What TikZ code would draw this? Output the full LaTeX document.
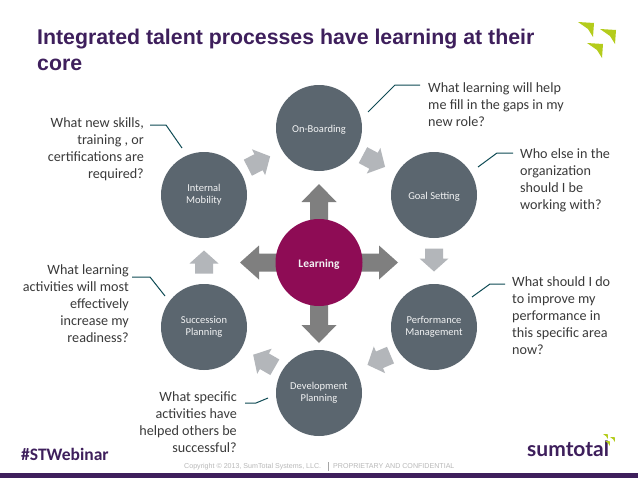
\documentclass[tikz,border=0pt]{standalone}
\usepackage{fontspec}
\setmainfont{Carlito}
\newfontfamily\arialf{Liberation Sans}
\newfontfamily\logof{Lato}
\definecolor{circ}{HTML}{5B666F}
\definecolor{plum}{HTML}{8E0C55}
\definecolor{darkarrow}{HTML}{7F7F7F}
\definecolor{lightarrow}{HTML}{B3B6BA}
\definecolor{teal}{HTML}{0E4A54}
\definecolor{titlec}{HTML}{3E1F5C}
\definecolor{lime}{HTML}{B4CC1C}
\definecolor{bodyc}{HTML}{3A3A3A}
\newcommand{\chevron}[2]{\fill[lime,shift={(#1,#2)}] (0,0) -- (16,1) -- (15,15) -- (10,7) -- cycle;}
\newcommand{\smallchev}[2]{\fill[lime,shift={(#1,#2)}] (0,0) -- (5,0.3) -- (4.7,5) -- (3.2,2.3) -- cycle;}
% centre x, centre y, screen direction (clockwise), length, head length, head half width, shaft half width, colour
\newcommand{\blockarrow}[8]{\fill[#8,shift={(#1,#2)},rotate={0-(#3)}]
  (#4/2,0) -- (#4/2-#5,#6) -- (#4/2-#5,#7) -- (-#4/2,#7) -- (-#4/2,-#7) -- (#4/2-#5,-#7) -- (#4/2-#5,-#6) -- cycle;}
\tikzset{
  x=1pt,y=-1pt,
  stage/.style={circle,fill=circ,minimum size=86pt,inner sep=0pt,text=white!92!circ,align=center,font=\fontsize{10.5}{12}\selectfont,execute at begin node={\rule{0pt}{11pt}}},
  hub/.style={stage,fill=plum,minimum size=87pt,font=\bfseries\fontsize{11.5}{13}\selectfont},
  ask/.style={text=bodyc,inner sep=0pt,font=\fontsize{14.15}{17}\selectfont},
  askr/.style={ask,align=right,anchor=north east},
  askl/.style={ask,align=left,anchor=north west},
  lead/.style={draw=teal,line width=1pt},
}
\begin{document}
\begin{tikzpicture}
\useasboundingbox (0,0) rectangle (638,479);
\fill[white] (0,0) rectangle (638,479);
\node[anchor=north west,inner sep=0pt,text=titlec,align=left,font=\arialf\bfseries\fontsize{21.3}{26}\selectfont] (title) at (37,29) {Integrated talent processes have learning at their\\core};
\chevron{578}{22}\chevron{600}{29}\chevron{587}{43}
% dark arrows
\blockarrow{319}{205}{-90}{42}{18}{17.5}{9}{darkarrow}
\blockarrow{319}{322}{90}{42}{18}{17.5}{9}{darkarrow}
\blockarrow{260}{262.5}{180}{40}{19}{17}{9}{darkarrow}
\blockarrow{378}{262.5}{0}{40}{19}{17}{9}{darkarrow}
% light arrows
\blockarrow{259}{162}{-27}{25}{13}{14.5}{9}{lightarrow}
\blockarrow{374}{161}{28}{25}{13}{14.5}{9}{lightarrow}
\blockarrow{434}{260}{90}{23}{13}{14.5}{9}{lightarrow}
\blockarrow{379}{360}{157}{25}{13}{14.5}{9}{lightarrow}
\blockarrow{264}{361}{210}{25}{13}{14.5}{9}{lightarrow}
\blockarrow{204}{262}{-90}{23}{13}{14.5}{9}{lightarrow}
% circles
\node[stage] (onb) at (319,128) {On-Boarding};
\node[stage] (goal) at (434,195) {Goal Setting};
\node[stage] (perf) at (434,327) {Performance\\Management};
\node[stage] (dev) at (319,393) {Development\\Planning};
\node[stage] (succ) at (204,327) {Succession\\Planning};
\node[stage] (mob) at (204,195) {Internal\\Mobility};
\node[hub] (learn) at (319,262.5) {Learning};
% callouts
\node[askl] (q1) at (428,82.5) {What learning will help\\me fill in the gaps in my\\new role?};
\node[askl] (q2) at (520,148) {Who else in the\\organization\\should I be\\working with?};
\node[askl] (q3) at (512,276) {What should I do\\to improve my\\performance in\\this specific area\\now?};
\node[askr] (q4) at (237,391) {What specific\\activities have\\helped others be\\successful?};
\node[askr] (q5) at (129,264) {What learning\\activities will most\\effectively\\increase my\\readiness?};
\node[askr] (q6) at (144,117) {What new skills,\\training , or\\certifications are\\required?};
% leader lines
\coordinate (l1a) at (368,112); \coordinate (l1b) at (395,85); \coordinate (l1c) at (420,85);
\coordinate (l2a) at (478,167); \coordinate (l2b) at (497,153); \coordinate (l2c) at (513,153);
\coordinate (l3a) at (472,297); \coordinate (l3b) at (490,284); \coordinate (l3c) at (505,284);
\coordinate (l4a) at (268,398); \coordinate (l4b) at (256,403); \coordinate (l4c) at (245,403);
\coordinate (l5a) at (165,296); \coordinate (l5b) at (150,277); \coordinate (l5c) at (132,277);
\coordinate (l6a) at (182,148); \coordinate (l6b) at (166,125); \coordinate (l6c) at (150,125);
\draw[lead] (l1a) -- (l1b) -- (l1c);
\draw[lead] (l2a) -- (l2b) -- (l2c);
\draw[lead] (l3a) -- (l3b) -- (l3c);
\draw[lead] (l4a) -- (l4b) -- (l4c);
\draw[lead] (l5a) -- (l5b) -- (l5c);
\draw[lead] (l6a) -- (l6b) -- (l6c);
% footer
\node[anchor=west,inner sep=0pt,text=titlec,font=\bfseries\fontsize{17.5}{20}\selectfont] (tag) at (21,454) {\#STWebinar};
\node[anchor=west,inner sep=0pt,text=black!28,font=\arialf\fontsize{7.1}{9}\selectfont] (copy) at (184,466.5) {Copyright © 2013, SumTotal Systems, LLC.};
\node[anchor=west,inner sep=0pt,text=black!28,font=\arialf\fontsize{7.1}{9}\selectfont] (prop) at (333,466.5) {PROPRIETARY AND CONFIDENTIAL};
\draw[black!35,line width=0.6pt] (328.5,462) -- (328.5,471);
\node[anchor=west,inner sep=0pt,text=titlec,font=\logof\bfseries\fontsize{21}{24}\selectfont] (logo) at (527,449) {sumtotal};
\smallchev{603}{434}\smallchev{610}{437}\smallchev{605}{441}
\fill[titlec] (0,473) rectangle (638,478);
\end{tikzpicture}
\end{document}
